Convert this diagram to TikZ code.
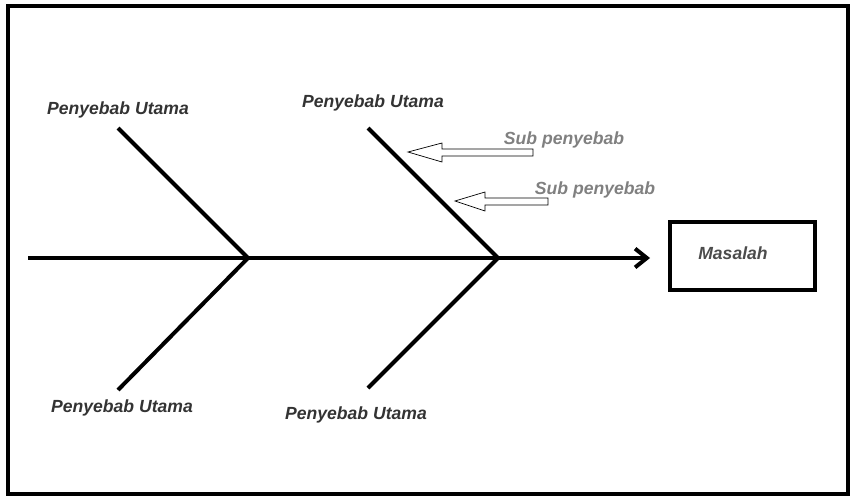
\documentclass[tikz,border=0pt]{standalone}
\usepackage{fontspec}
\setmainfont{Liberation Sans}
\usetikzlibrary{arrows.meta}
\begin{document}
\begin{tikzpicture}[x=0.03cm,y=-0.03cm,
  bone/.style={line width=3.4pt},
  lbl/.style={font=\fontsize{15}{17}\selectfont\bfseries\itshape, text=black!80},
  sublbl/.style={font=\fontsize{15}{17}\selectfont\bfseries\itshape, text=black!50},
  hollow/.style={draw=black, fill=white, line width=0.6pt}]
\useasboundingbox (0,0) rectangle (855,500);
\draw[line width=3.2pt] (8,6) rectangle (848,494);
\coordinate (tail) at (28,258);
\coordinate (j1) at (248,258);
\coordinate (j2) at (498,258);
\node[draw, line width=3.4pt, minimum width=145*0.03cm, minimum height=68*0.03cm, anchor=north west] (box) at (668,220) {};
\node[lbl, text=black!70] (m) at (733,253) {Masalah};
\draw[bone, -{Straight Barb[length=10pt,width=16pt,line width=3.4pt]}] (tail) -- (650,258);
\coordinate (a1) at (118,128); \coordinate (b1) at (118,390);
\coordinate (a2) at (368,128); \coordinate (b2) at (368,388);
\draw[bone] (a1) -- (j1) -- (b1);
\draw[bone] (a2) -- (j2) -- (b2);
\node[lbl] (p1) at (118,110) {Penyebab Utama};
\node[lbl] (p2) at (373,103) {Penyebab Utama};
\node[lbl] (p3) at (122,408) {Penyebab Utama};
\node[lbl] (p4) at (356,415) {Penyebab Utama};
\draw[hollow] (408,152) -- (442,143) -- (442,149) -- (533,149) -- (533,156) -- (442,156) -- (442,162) -- cycle;
\draw[hollow] (455,201) -- (485,192) -- (485,198) -- (548,198) -- (548,205) -- (485,205) -- (485,211) -- cycle;
\node[sublbl] (s1) at (564,140) {Sub penyebab};
\node[sublbl] (s2) at (595,190) {Sub penyebab};
\end{tikzpicture}
\end{document}
